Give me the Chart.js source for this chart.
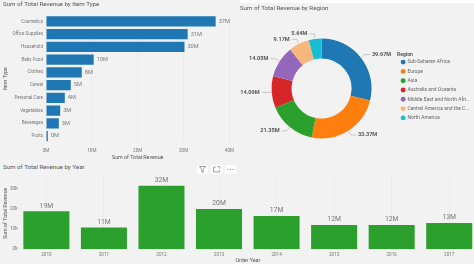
<!DOCTYPE html>
<html>
<head>
<meta charset="utf-8">
<script src="https://cdn.jsdelivr.net/npm/chart.js@4/dist/chart.umd.js"></script>
<style>
html,body{margin:0;padding:0;background:#f2f2f2;overflow:hidden;width:474px;height:264px;font-family:Roboto,sans-serif}
.wrap{position:absolute}
.title{position:absolute;font-size:6.2px;color:#555;white-space:nowrap;line-height:10px}
.btn{position:absolute;top:165px;width:11px;height:9px;background:#fff}
.btn svg{display:block;width:11px;height:9px}
</style>
</head>
<body>
<div style="position:absolute;left:240px;top:0;width:234px;height:3px;background:#fff"></div>
<div class="wrap" style="left:0;top:0;width:240px;height:162px"><canvas id="itemChart"></canvas></div>
<div class="wrap" style="left:226px;top:14px;width:254px;height:149px"><canvas id="regionChart"></canvas></div>
<div class="wrap" style="left:0;top:176px;width:478px;height:88px"><canvas id="yearChart"></canvas></div>
<div class="title" style="left:3px;top:-1px">Sum of Total Revenue by Item Type</div>
<div class="title" style="left:240px;top:3px">Sum of Total Revenue by Region</div>
<div class="title" style="left:3px;top:162px">Sum of Total Revenue by Year</div>
<div class="btn" style="left:197px"><svg viewBox="0 0 11 9"><path d="M2.5 1.5h6L6.2 4.5v3l-1.4-.8V4.5z" fill="none" stroke="#777" stroke-width=".7"/></svg></div>
<div class="btn" style="left:211px"><svg viewBox="0 0 11 9"><path d="M5 2H2.5v5h6V5" fill="none" stroke="#777" stroke-width=".7"/><path d="M6.5 1.5h2.2v2.2" fill="none" stroke="#777" stroke-width=".7"/></svg></div>
<div class="btn" style="left:225px"><svg viewBox="0 0 11 9"><g fill="#777"><circle cx="3" cy="4.5" r=".6"/><circle cx="5.5" cy="4.5" r=".6"/><circle cx="8" cy="4.5" r=".6"/></g></svg></div>
<script>
var itemTypes = ['Cosmetics','Office Supplies','Household','Baby Food','Clothes','Cereal','Personal Care','Vegetables','Beverages','Fruits'];
var itemRevenue = [37,30.9,30.2,10.4,7.8,5.4,4.1,3.1,2.8,0.4];
var itemTicks = [0,10,20,30,40];

var regions = ['Sub-Saharan Africa','Europe','Asia','Australia and Oceania','Middle East and North Afri...','Central America and the C...','North America'];
var regionRevenue = [39.67,33.37,21.35,14.09,14.05,9.17,5.64];
var regionColors = ['#1f77b4','#ff7f0e','#2ca02c','#d62728','#9467bd','#f7b67c','#17becf'];

var years = ['2010','2011','2012','2013','2014','2015','2016','2017'];
var yearRevenue = [19,10.9,31.7,20.1,16.6,12.2,12.1,13.2];
var yearTicks = [0,10,20,30];

var greyText = '#777';
var font = 'Roboto';

// value labels at the end of each bar
var barLabels = {
	id: 'barLabels',
	afterDatasetsDraw: function(chart){
		var ctx = chart.ctx;
		var horizontal = chart.options.indexAxis == 'y';
		var meta = chart.getDatasetMeta(0);
		ctx.save();
		ctx.fillStyle = greyText;
		ctx.font = (horizontal ? 5.6 : 6.8) + 'px "' + font + '"';
		meta.data.forEach(function(bar, i){
			var text = Math.round(chart.data.datasets[0].data[i]) + 'M';
			if(horizontal){
				ctx.textAlign = 'left';
				ctx.textBaseline = 'middle';
				ctx.fillText(text, bar.x + 3, bar.y);
			}else{
				ctx.textAlign = 'center';
				ctx.textBaseline = 'bottom';
				ctx.fillText(text, bar.x, bar.y - 2);
			}
		});
		ctx.restore();
	}
};

// outside labels with leader lines for the donut
var sliceLabels = {
	id: 'sliceLabels',
	afterDatasetsDraw: function(chart){
		var ctx = chart.ctx;
		var meta = chart.getDatasetMeta(0);
		ctx.save();
		ctx.font = 'bold 5.6px "' + font + '"';
		ctx.textBaseline = 'middle';
		meta.data.forEach(function(arc, i){
			var mid = (arc.startAngle + arc.endAngle) / 2;
			var cos = Math.cos(mid), sin = Math.sin(mid);
			var r = arc.outerRadius;
			var x1 = arc.x + cos * (r + 1), y1 = arc.y + sin * (r + 1);
			var x2 = arc.x + cos * (r + 5), y2 = arc.y + sin * (r + 5);
			var right = cos >= 0;
			var x3 = x2 + (right ? 5 : -5);
			ctx.strokeStyle = '#aaa';
			ctx.lineWidth = 0.6;
			ctx.beginPath();
			ctx.moveTo(x1, y1);
			ctx.lineTo(x2, y2);
			ctx.lineTo(x3, y2);
			ctx.stroke();
			ctx.fillStyle = '#555';
			ctx.textAlign = right ? 'left' : 'right';
			ctx.fillText(chart.data.datasets[0].data[i].toFixed(2) + 'M', x3 + (right ? 2 : -2), y2);
		});
		ctx.restore();
	}
};

function axisTitle(text){
	return {display: true, text: text, color: '#555', font: {size: 5.3, family: font}, padding: 0};
}

Chart.defaults.animation = false;
Chart.defaults.responsive = true;
Chart.defaults.maintainAspectRatio = false;
Chart.defaults.font.family = font;

new Chart(document.getElementById('itemChart'), {
	type: 'bar',
	data: {labels: itemTypes, datasets: [{data: itemRevenue, backgroundColor: '#1f77b4', categoryPercentage: 1, barPercentage: 0.8}]},
	options: {
		indexAxis: 'y',
		layout: {padding: {top: 15, right: 10, bottom: 1, left: 2}},
		plugins: {legend: {display: false}, tooltip: {enabled: false}},
		scales: {
			x: {
				min: 0, max: 40,
				afterBuildTicks: function(axis){ axis.ticks = itemTicks.map(function(v){ return {value: v}; }); },
				afterFit: function(axis){ axis.height = 18.6; },
				ticks: {color: greyText, font: {size: 4.6}, padding: 6, maxRotation: 0, callback: function(v){ return v + 'M'; }},
				grid: {color: 'rgba(0,0,0,0.03)', drawTicks: false},
				border: {display: false},
				title: axisTitle('Sum of Total Revenue')
			},
			y: {
				afterFit: function(axis){ axis.width = 44; },
				ticks: {color: greyText, font: {size: 4.6}, padding: 3, autoSkip: false},
				grid: {display: false, drawTicks: false},
				border: {display: false},
				title: axisTitle('Item Type')
			}
		}
	},
	plugins: [barLabels]
});

new Chart(document.getElementById('regionChart'), {
	type: 'doughnut',
	data: {labels: regions, datasets: [{data: regionRevenue, backgroundColor: regionColors, borderWidth: 0, radius: 50, cutout: '60%'}]},
	options: {
		layout: {padding: {left: 20}},
		plugins: {
			tooltip: {enabled: false},
			legend: {
				position: 'right',
				align: 'center',
				title: {display: true, text: 'Region', color: '#555', font: {size: 5, weight: 'bold'}, padding: {top: 0, bottom: -3}, position: 'start'},
				labels: {color: '#666', font: {size: 5}, usePointStyle: true, pointStyle: 'circle', boxWidth: 3.5, boxHeight: 3.5, padding: 4.3}
			}
		}
	},
	plugins: [sliceLabels]
});

new Chart(document.getElementById('yearChart'), {
	type: 'bar',
	data: {labels: years, datasets: [{data: yearRevenue, backgroundColor: '#2ca02c', categoryPercentage: 1, barPercentage: 0.8}]},
	options: {
		layout: {padding: {top: 1, right: 0, bottom: 0, left: 2}},
		plugins: {legend: {display: false}, tooltip: {enabled: false}},
		scales: {
			x: {
				afterFit: function(axis){ axis.height = 14.7; },
				ticks: {color: greyText, font: {size: 4.6}, padding: 2.5, maxRotation: 0},
				grid: {color: 'rgba(0,0,0,0.03)', drawTicks: false, offset: false},
				border: {display: false},
				title: axisTitle('Order Year')
			},
			y: {
				min: 0, max: 36,
				afterBuildTicks: function(axis){ axis.ticks = yearTicks.map(function(v){ return {value: v}; }); },
				afterFit: function(axis){ axis.width = 15.6; },
				ticks: {color: greyText, font: {size: 4.6}, padding: -1.5, callback: function(v){ return v + 'M'; }},
				grid: {display: false, drawTicks: false},
				border: {display: false},
				title: axisTitle('Sum of Total Revenue')
			}
		}
	},
	plugins: [barLabels]
});
</script>
</body>
</html>
